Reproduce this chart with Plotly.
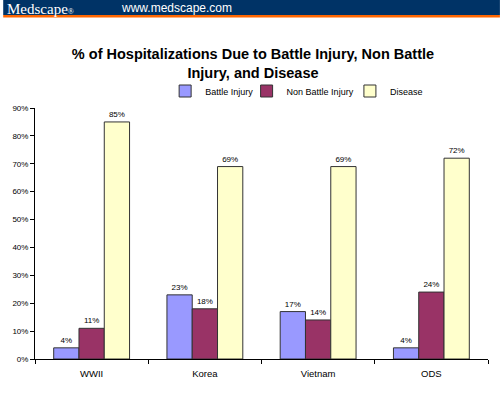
import plotly.graph_objects as go

categories = ["WWII", "Korea", "Vietnam", "ODS"]
battle = [0.04, 0.23, 0.17, 0.04]
non_battle = [0.11, 0.18, 0.14, 0.24]
disease = [0.85, 0.69, 0.69, 0.72]
series_names = ["Battle Injury", "Non Battle Injury", "Disease"]
colors = ["#9999FF", "#993366", "#FFFFCC"]
y_ticks = [0, 0.1, 0.2, 0.3, 0.4, 0.5, 0.6, 0.7, 0.8, 0.9]

W, H = 500, 393
L, R, T, B = 32, 12, 108, 34
pw, ph = W - L - R, H - T - B

def px_x(x):
    return (x - L) / pw

def px_y(y):
    return (H - B - y) / ph

legend_ids = ["legend", "legend2", "legend3"]
legend_px = [163, 245, 349]

fig = go.Figure()
for name, vals, col, lid in zip(series_names, [battle, non_battle, disease], colors, legend_ids):
    fig.add_trace(go.Bar(
        x=categories, y=vals, name=name, legend=lid,
        marker=dict(color=col, line=dict(color="#333333", width=1)),
        text=[f"{round(v*100)}%" for v in vals],
        textposition="outside", cliponaxis=False,
        textfont=dict(family="Liberation Sans, Arial", size=8, color="#000000"),
    ))

shapes = [
    dict(type="rect", xref="paper", yref="paper", x0=px_x(0), x1=px_x(W),
         y0=px_y(15), y1=px_y(0), fillcolor="#003366", line=dict(width=0), layer="above"),
    dict(type="rect", xref="paper", yref="paper", x0=px_x(0), x1=px_x(W),
         y0=px_y(17.5), y1=px_y(15), fillcolor="#FF6600", line=dict(width=0), layer="above"),
]
annotations = [
    dict(text="Medscape<span style='font-size:8px'>®</span>", xref="paper", yref="paper",
         x=px_x(3), y=px_y(0), xanchor="left", yanchor="top", showarrow=False, borderpad=0,
         font=dict(family="Liberation Serif, Times New Roman", size=15, color="white")),
    dict(text="www.medscape.com", xref="paper", yref="paper",
         x=px_x(118), y=px_y(0), xanchor="left", yanchor="top", showarrow=False, borderpad=0,
         font=dict(family="Liberation Sans, Arial", size=12, color="white")),
]

legend_common = dict(orientation="h", xanchor="left", yanchor="middle", y=px_y(91),
                     font=dict(family="Liberation Sans, Arial", size=9, color="#000000"),
                     itemwidth=30, bgcolor="rgba(0,0,0,0)")

fig.update_layout(
    width=W, height=H,
    margin=dict(l=L, r=R, t=T, b=B),
    paper_bgcolor="white", plot_bgcolor="white",
    barmode="group", bargap=0.33, bargroupgap=0,
    title=dict(text="<b>% of Hospitalizations Due to Battle Injury, Non Battle<br>Injury, and Disease</b>",
               x=(253) / W, xanchor="center", y=(H - 59) / H, yanchor="middle",
               yref="container", xref="container",
               font=dict(family="Liberation Sans, Arial", size=14.5, color="#000000")),
    legend=dict(x=px_x(legend_px[0]), **legend_common),
    legend2=dict(x=px_x(legend_px[1]), **legend_common),
    legend3=dict(x=px_x(legend_px[2]), **legend_common),
    shapes=shapes, annotations=annotations,
    showlegend=True,
)
fig.update_xaxes(showline=True, linecolor="#000000", linewidth=1, ticks="outside",
                 tickson="boundaries", ticklen=4, tickcolor="#000000",
                 ticklabelstandoff=6,
                 tickfont=dict(family="Liberation Sans, Arial", size=9.5, color="#000000"),
                 showgrid=False)
fig.update_yaxes(range=[0, 0.9], tickvals=y_ticks, tickformat=".0%", showline=True,
                 linecolor="#000000", linewidth=1, ticks="outside", ticklen=4,
                 tickcolor="#000000", showgrid=False, zeroline=False,
                 tickfont=dict(family="Liberation Sans, Arial", size=8, color="#000000"))

fig.write_html("out.html", config={"displayModeBar": False},
               post_script="document.body.style.margin='0';")
